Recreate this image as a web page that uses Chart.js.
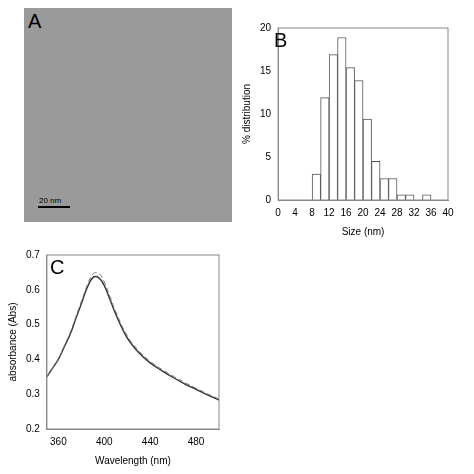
<!DOCTYPE html>
<html><head><meta charset="utf-8">
<script src="https://cdn.jsdelivr.net/npm/chart.js@4/dist/chart.umd.min.js"></script>
<style>
body{margin:0;background:#fff;font-family:Arial,"Liberation Sans",sans-serif;}
.box{position:absolute;}
#tem{left:24px;top:8px;width:208px;height:214px;background:#9a9a9a;}
.lab{position:absolute;font-size:20px;color:#000;}
</style></head><body>
<div class="box" id="tem"></div>
<div class="lab" style="left:28px;top:10px;">A</div>
<div style="position:absolute;left:38px;top:206px;width:32px;height:2px;background:#000"></div>
<div style="position:absolute;left:39px;top:196px;font-size:8px">20 nm</div>
<div class="box" style="left:237px;top:0;width:237px;height:242px"><canvas id="b"></canvas></div>
<div class="box" style="left:0;top:230px;width:237px;height:244px"><canvas id="c"></canvas></div>
<div class="lab" style="left:274px;top:29px;">B</div>
<div class="lab" style="left:50px;top:256px;">C</div>
<script>
const binCenters=[9,11,13,15,17,19,21,23,25,27,29,31,33,35];
const binPercent=[3,11.9,16.9,18.9,15.4,13.9,9.4,4.5,2.5,2.5,0.6,0.6,0,0.6];
const wavelength=[350,355,360,365,370,375,380,385,390,395,400,405,410,420,430,440,450,460,470,480,490,500];
const absSolid=[0.35,0.375,0.40,0.435,0.47,0.515,0.56,0.605,0.635,0.635,0.612,0.572,0.53,0.462,0.42,0.39,0.368,0.348,0.33,0.314,0.298,0.283];
const absDashed=[0.35,0.376,0.402,0.438,0.475,0.52,0.566,0.612,0.645,0.648,0.622,0.58,0.537,0.468,0.425,0.395,0.372,0.352,0.334,0.317,0.301,0.286];
Chart.defaults.font.family='Arial, "Liberation Sans", sans-serif';
Chart.defaults.font.size=10;
Chart.defaults.color='#000';
Chart.defaults.animation=false;
// frame around the plot area
const frame={id:'frame',afterDraw(c){const a=c.chartArea,x=c.ctx;x.save();x.strokeStyle='#888';x.lineWidth=1;x.strokeRect(a.left,a.top,a.right-a.left,a.bottom-a.top);x.restore();}};
const ax=(min,max,step,title)=>({type:'linear',min,max,
  ticks:{stepSize:step,autoSkip:false,maxRotation:0},
  grid:{display:false,drawTicks:true,tickLength:4,tickColor:'#000'},
  border:{color:'#888'},
  title:{display:true,text:title,font:{size:10}}});
new Chart(document.getElementById('b'),{
  type:'bar',
  data:{datasets:[{data:binCenters.map((x,i)=>({x,y:binPercent[i]})),backgroundColor:'#fff',borderColor:'#555',borderWidth:1,barPercentage:1,categoryPercentage:1}]},
  options:{responsive:true,maintainAspectRatio:false,layout:{padding:{top:28,right:26,left:0,bottom:0}},
    plugins:{legend:{display:false},tooltip:{enabled:false}},
    scales:{x:{...ax(0,40,4,'Size (nm)'),offset:false},y:ax(0,20,5,'% distribution')}}
  ,plugins:[frame]
});
new Chart(document.getElementById('c'),{
  type:'line',
  data:{labels:wavelength,datasets:[
    {data:absDashed,borderColor:'#777',borderDash:[5,3],borderWidth:1,pointRadius:0,tension:0.4},
    {data:absSolid,borderColor:'#333',borderWidth:1.4,pointRadius:0,tension:0.4}]},
  options:{responsive:true,maintainAspectRatio:false,layout:{padding:{top:25,right:18,left:3,bottom:3}},
    plugins:{legend:{display:false},tooltip:{enabled:false}},
    scales:{x:{...ax(350,500,40,'Wavelength (nm)'),afterBuildTicks:s=>{s.ticks=[360,400,440,480].map(v=>({value:v}));}},
      y:{...ax(0.2,0.7,0.1,'absorbance (Abs)'),ticks:{stepSize:0.1,callback:v=>v.toFixed(1)}}}}
  ,plugins:[frame]
});
</script></body></html>
